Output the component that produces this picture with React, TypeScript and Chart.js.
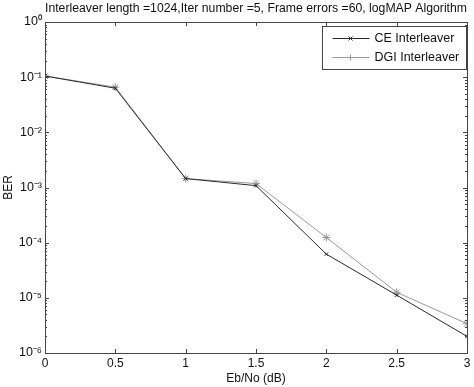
import React, { useEffect, useRef } from "react";
import { Chart, registerables } from "chart.js";

Chart.register(...registerables);

const titleText = "Interleaver length =1024,Iter number =5, Frame errors =60, logMAP Algorithm";
const ebNo = [0, 0.5, 1, 1.5, 2, 2.5, 3];
const ceBer = [0.105, 0.063, 0.00145, 0.00108, 6.2e-5, 1.12e-5, 2.0e-6];
const dgiBer = [0.105, 0.066, 0.00145, 0.00118, 1.24e-4, 1.26e-5, 3.4e-6];
const yDecades = [1e-6, 1e-5, 1e-4, 1e-3, 1e-2, 1e-1, 1];
const xTicks = [0, 0.5, 1, 1.5, 2, 2.5, 3];
const supers: Record<string, string> = { "-": "⁻", "0": "⁰", "1": "¹", "2": "²", "3": "³", "4": "⁴", "5": "⁵", "6": "⁶", "7": "⁷", "8": "⁸", "9": "⁹" };

const FONT = "'Liberation Sans', Arial, sans-serif";

const framePlugin = {
  id: "frame",
  afterDraw(chart: any) {
    const { ctx, chartArea: a, scales } = chart;
    const xs = scales.x, ys = scales.y;
    ctx.save();
    ctx.strokeStyle = "#444";
    ctx.lineWidth = 1;
    ctx.strokeRect(Math.round(a.left) + 0.5, Math.round(a.top) + 0.5, Math.round(a.right - a.left), Math.round(a.bottom - a.top));
    ctx.beginPath();
    const major = 4, minor = 2;
    xTicks.forEach((v) => {
      const px = Math.round(xs.getPixelForValue(v)) + 0.5;
      ctx.moveTo(px, a.bottom); ctx.lineTo(px, a.bottom - major);
      ctx.moveTo(px, a.top); ctx.lineTo(px, a.top + major);
    });
    for (let e = -6; e <= 0; e++) {
      const base = Math.pow(10, e);
      const py = Math.round(ys.getPixelForValue(base)) + 0.5;
      ctx.moveTo(a.left, py); ctx.lineTo(a.left + major, py);
      ctx.moveTo(a.right, py); ctx.lineTo(a.right - major, py);
      if (e < 0) {
        for (let m = 2; m <= 9; m++) {
          const pm = Math.round(ys.getPixelForValue(base * m)) + 0.5;
          ctx.moveTo(a.left, pm); ctx.lineTo(a.left + minor, pm);
          ctx.moveTo(a.right, pm); ctx.lineTo(a.right - minor, pm);
        }
      }
    }
    ctx.stroke();

    // legend
    const bw = 144, bh = 43;
    const bx = Math.round(a.right - bw - 1) + 0.5, by = Math.round(a.top + 4) + 0.5;
    ctx.fillStyle = "#fff";
    ctx.fillRect(bx, by, bw, bh);
    ctx.strokeStyle = "#444";
    ctx.strokeRect(bx, by, bw, bh);
    ctx.font = `12.5px ${FONT}`;
    ctx.textBaseline = "middle";
    chart.data.datasets.forEach((ds: any, i: number) => {
      const ly = by + 12 + i * 19;
      ctx.strokeStyle = ds.borderColor;
      ctx.lineWidth = 1;
      ctx.beginPath();
      ctx.moveTo(bx + 10, ly); ctx.lineTo(bx + 47, ly);
      ctx.stroke();
      const cx = bx + 28;
      ctx.beginPath();
      if (i === 0) {
        ctx.moveTo(cx - 2, ly - 2); ctx.lineTo(cx + 2, ly + 2);
        ctx.moveTo(cx - 2, ly + 2); ctx.lineTo(cx + 2, ly - 2);
      } else {
        ctx.moveTo(cx - 3, ly); ctx.lineTo(cx + 3, ly);
        ctx.moveTo(cx, ly - 3); ctx.lineTo(cx, ly + 3);
      }
      ctx.stroke();
      ctx.fillStyle = "#111";
      ctx.fillText(ds.label, bx + 52, ly);
    });
    ctx.restore();
  },
};

export default function App() {
  const ref = useRef<HTMLCanvasElement>(null);
  useEffect(() => {
    document.body.style.margin = "0";
    const chart = new Chart(ref.current!, {
      type: "line",
      data: {
        labels: ebNo,
        datasets: [
          {
            label: "CE Interleaver",
            data: ebNo.map((x, i) => ({ x, y: ceBer[i] })),
            borderColor: "#2a2a2a",
            backgroundColor: "#2a2a2a",
            borderWidth: 1,
            pointStyle: "crossRot",
            pointRadius: 2.5,
            pointBorderWidth: 1,
          },
          {
            label: "DGI Interleaver",
            data: ebNo.map((x, i) => ({ x, y: dgiBer[i] })),
            borderColor: "#9a9a9a",
            backgroundColor: "#9a9a9a",
            borderWidth: 1,
            pointStyle: "star",
            pointRadius: 4,
            pointBorderWidth: 1,
          },
        ],
      },
      options: {
        animation: false,
        responsive: false,
        layout: { padding: { left: 0, right: 7, top: 0, bottom: 0 } },
        plugins: {
          legend: { display: false },
          tooltip: { enabled: false },
          title: {
            display: true,
            text: titleText,
            fullSize: false,
            color: "#111",
            font: { family: FONT, size: 12.5, weight: "normal" },
            padding: { top: 1, bottom: 6 },
          },
        },
        scales: {
          x: {
            type: "linear",
            min: 0,
            max: 3,
            grid: { display: false, drawTicks: false, tickLength: 0 },
            border: { display: false },
            afterBuildTicks: (s: any) => { s.ticks = xTicks.map((v) => ({ value: v })); },
            afterFit: (s: any) => { s.height = 34; },
            ticks: {
              color: "#111",
              padding: 3,
              maxRotation: 0,
              font: { family: FONT, size: 12 },
              callback: (v: any) => String(v),
            },
            title: {
              display: true,
              text: "Eb/No (dB)",
              color: "#111",
              font: { family: FONT, size: 12 },
              padding: { top: 0, bottom: 1 },
            },
          },
          y: {
            type: "logarithmic",
            min: 1e-6,
            max: 1,
            grid: { display: false, drawTicks: false, tickLength: 0 },
            border: { display: false },
            afterBuildTicks: (s: any) => { s.ticks = yDecades.map((v) => ({ value: v })); },
            afterFit: (s: any) => { s.width = 45; },
            ticks: {
              color: "#111",
              padding: 3,
              font: { family: FONT, size: 12.5 },
              callback: (v: any) => {
                const e = Math.round(Math.log10(Number(v)));
                return "10" + String(e).split("").map((c) => supers[c]).join("");
              },
            },
            title: {
              display: true,
              text: "BER",
              color: "#111",
              font: { family: FONT, size: 12 },
              padding: { top: 1, bottom: 0 },
            },
          },
        },
      },
      plugins: [framePlugin],
    } as any);
    return () => chart.destroy();
  }, []);
  return <canvas ref={ref} width={474} height={387} style={{ display: "block" }} />;
}
